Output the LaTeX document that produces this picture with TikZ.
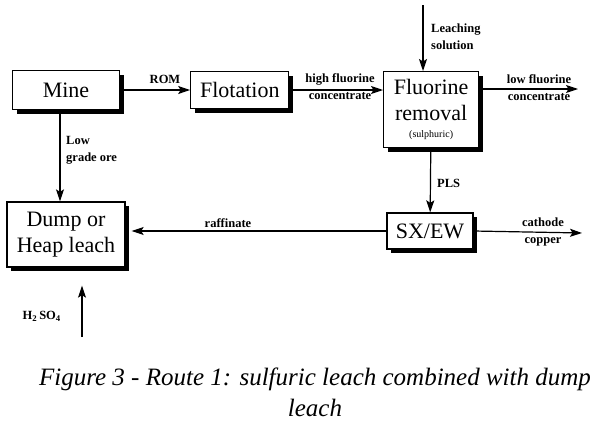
\documentclass[tikz,border=0pt]{standalone}
\usepackage{fontspec}
\setmainfont{Liberation Serif}
\usetikzlibrary{arrows.meta,positioning,shadows}

\begin{document}
\begin{tikzpicture}[
        x=1pt, y=-1pt,
        >={Stealth[length=12pt,width=8pt,inset=2.5pt]},
        unit/.style={rectangle,draw,line width=1.3pt,fill=white,align=center,inner sep=1pt,
            font=\fontsize{22}{26}\selectfont,
            drop shadow={shadow xshift=4pt,shadow yshift=-4pt,fill=black,opacity=1}},
        tag/.style={font=\bfseries\fontsize{12.5}{17}\selectfont,align=center,inner sep=1pt},
        arrow/.style={->,line width=1.2pt}
    ]
        \useasboundingbox (0,0) rectangle (596,442);

        % process units
        \node[unit,minimum width=107pt,minimum height=39pt] (mine) at (66,90) {Mine};
        \node[unit,minimum width=98pt,minimum height=37pt,right=70pt of mine] (flot) {Flotation};
        \node[unit,minimum width=95pt,minimum height=76pt,anchor=north west] (fluor) at (383,71)
            {Fluorine\\removal\\[-9pt]{\fontsize{10}{12}\selectfont (sulphuric)}};
        \node[unit,minimum width=86pt,minimum height=36pt] (sxew) at (430,231) {SX/EW};
        \node[unit,minimum width=118pt,minimum height=65pt] (dump) at (66,234.5) {Dump or\\Heap leach};

        % free ends
        \coordinate (leachin) at (423,5);
        \coordinate (lowout) at (578,89);
        \coordinate (cathout) at (582,233);
        \coordinate (acidin) at (82,337);

        % streams
        \draw[arrow] (mine) -- (flot);
        \draw[arrow] (flot.east) -- (flot.east -| fluor.west);
        \draw[arrow] (leachin) -- (leachin |- fluor.north);
        \draw[arrow] (lowout -| fluor.east) -- (lowout);
        \draw[arrow] ([xshift=-6pt]mine.south) -- ([xshift=-6pt]mine.south |- dump.north);
        \draw[arrow] (fluor) -- (sxew);
        \draw[arrow,shorten >=6pt] (sxew) -- (sxew -| dump.east);
        \draw[arrow] (sxew.east) -- (cathout);
        \draw[arrow,shorten >=18pt] (acidin) -- (acidin |- dump.south);

        % stream labels
        \node[tag] (rom) at (165,79) {ROM};
        \node[tag] (highf) at (340,87) {high fluorine\\concentrate};
        \node[tag,anchor=west,align=left] (leach) at (430,37) {Leaching\\solution};
        \node[tag] (lowf) at (539,88) {low fluorine\\concentrate};
        \node[tag,anchor=west,align=left] (lowgrade) at (65,150) {Low\\grade ore};
        \node[tag,anchor=west] (pls) at (436,183) {PLS};
        \node[tag] (raff) at (228,223) {raffinate};
        \node[tag] (cath) at (543,232) {cathode\\copper};
        \node[tag,anchor=east] (acid) at (62,316) {H\textsubscript{2}\,SO\textsubscript{4}};

        % caption
        \node[font=\itshape\fontsize{25}{31}\selectfont,align=center] (caption) at (315,392)
            {Figure 3 - Route 1: sulfuric leach combined with dump\\leach};
    \end{tikzpicture}
\end{document}
